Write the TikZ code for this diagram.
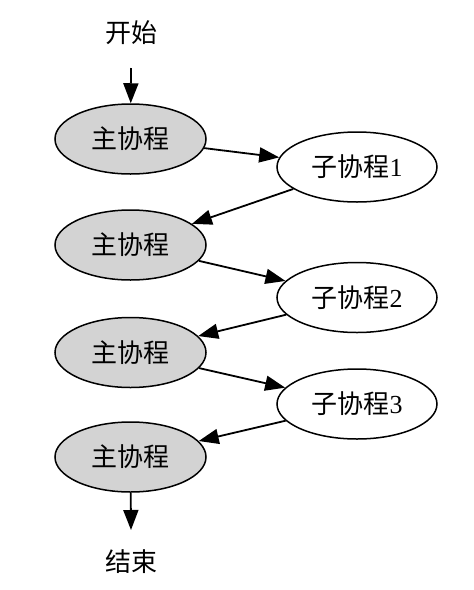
\documentclass[tikz,border=0pt]{standalone}
\usepackage{fontspec}
\setmainfont{Liberation Serif}
\newfontfamily\cjk{Noto Sans CJK SC}
\usetikzlibrary{arrows.meta}
\usetikzlibrary{shapes}
\usetikzlibrary{positioning}
\definecolor{zhugray}{HTML}{D3D3D3}

\begin{document}
\begin{tikzpicture}[x=1pt,y=-1pt]
\useasboundingbox[fill=white] (0,0) rectangle (474,590);
\tikzset{
  txt/.style={font=\fontsize{26}{29}\selectfont\cjk, inner sep=0pt},
  zhu/.style={ellipse, draw, line width=1.5pt, fill=zhugray,
              minimum width=151pt, minimum height=70pt,
              font=\fontsize{26}{29}\selectfont\cjk},
  zi/.style={ellipse, draw, line width=1.5pt, fill=white,
             minimum width=160pt, minimum height=70pt,
             font=\fontsize{26}{29}\selectfont},
  pil/.style={-{Triangle[length=20pt,width=15pt]}, line width=1.8pt},
}
% start and end
\node[txt] (start) at (131,33) {开始};
\node[txt] (stop) at (131,562) {结束};
\coordinate (s0) at (131,68);
\coordinate (e0) at (131,530);
% main coroutine
\node[zhu] (m1) at (130.5,139) {主协程};
\node[zhu] (m2) at (130.5,245) {主协程};
\node[zhu] (m3) at (130.5,352.5) {主协程};
\node[zhu] (m4) at (130.5,457) {主协程};
% sub coroutines
\node[zi] (z1) at (357,167) {{\cjk 子协程}1};
\node[zi] (z2) at (357,297.5) {{\cjk 子协程}2};
\node[zi] (z3) at (357,404) {{\cjk 子协程}3};
%==========================================
\draw[pil] (s0) -- (m1);
\draw[pil] (m1) -- (z1);
\draw[pil] (z1) -- (m2);
\draw[pil] (m2) -- (z2);
\draw[pil] (z2) -- (m3);
\draw[pil] (m3) -- (z3);
\draw[pil] (z3) -- (m4);
\draw[pil] (m4) -- (e0);
\end{tikzpicture}
\end{document}
